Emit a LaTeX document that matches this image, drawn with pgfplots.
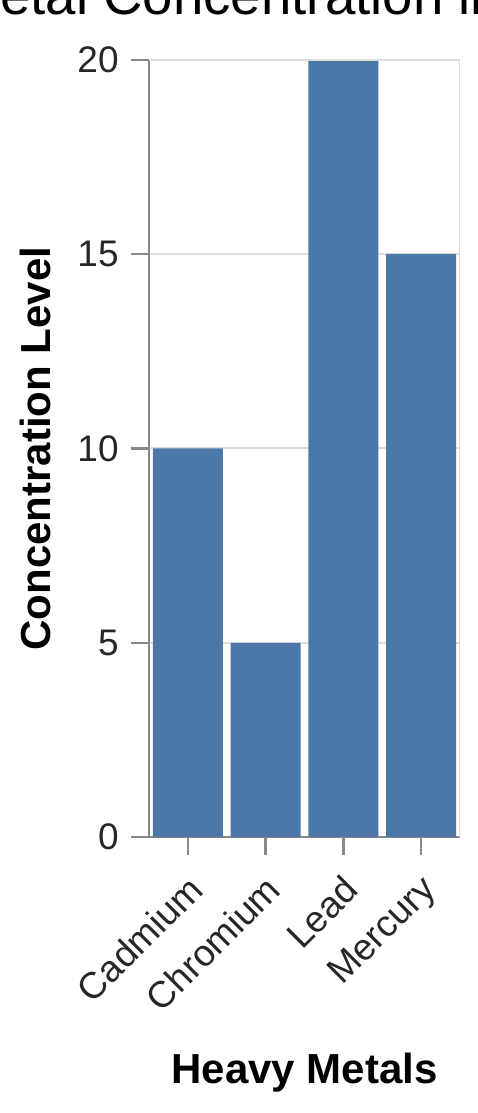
\documentclass[border=0pt]{standalone}
\usepackage{fontspec}
\setmainfont{Liberation Sans}
\usepackage{pgfplots}
\pgfplotsset{compat=1.18}
\definecolor{barblue}{HTML}{4C78A8}
\definecolor{axisgray}{HTML}{888888}
\definecolor{gridgray}{HTML}{DDDDDD}

\begin{document}
\begin{tikzpicture}[x=1bp,y=1bp]
% frame of the cropped reference: 478 x 1113 px at 2 px per bp
\useasboundingbox (-74.5bp,-138bp) rectangle (164.5bp,418.5bp);
\clip (-74.5bp,-138bp) rectangle (164.5bp,418.5bp);
\begin{axis}[
  at={(0,0)}, anchor=south west,
  scale only axis, width=155.5bp, height=388.5bp,
  xmin=-0.5, xmax=3.5, ymin=0, ymax=20,
  axis x line*=bottom, axis y line*=left,
  axis line style={axisgray, line width=1.2bp},
  xtick={0,1,2,3},
  xticklabels={Cadmium,Chromium,Lead,Mercury},
  ytick={0,5,10,15,20},
  ymajorgrids, grid style={gridgray, line width=1bp},
  tick align=outside, major tick length=9bp,
  tick style={axisgray, line width=1.2bp},
  /pgf/number format/assume math mode=true,
  ticklabel style={font=\fontsize{18.5bp}{22bp}\selectfont, text=black!85},
  yticklabel style={anchor=east, inner sep=0pt, xshift=-6bp},
  xticklabel style={rotate=45, anchor=north east, inner sep=1bp, xshift=-6bp, yshift=-4.6bp},
  xlabel={Heavy Metals},
  ylabel={Concentration Level},
  label style={font=\fontsize{21bp}{25bp}\selectfont\bfseries},
  xlabel style={at={(axis description cs:0.5,0)}, anchor=base, yshift=-123bp},
  ylabel style={at={(axis description cs:-0.3666,0.5)}, anchor=center},
]
\addplot[ybar, bar width=0.9, fill=barblue, draw=none]
  coordinates {(0,10) (1,5) (2,20) (3,15)};
\draw[gridgray, line width=1bp] (rel axis cs:0,1) -- (rel axis cs:1,1) -- (rel axis cs:1,0);
\end{axis}
\node[anchor=base west, inner sep=0pt, font=\fontsize{27.3bp}{30bp}\selectfont]
  at (-97.25bp,411bp) {Metal Concentration in};
\end{tikzpicture}
\end{document}
